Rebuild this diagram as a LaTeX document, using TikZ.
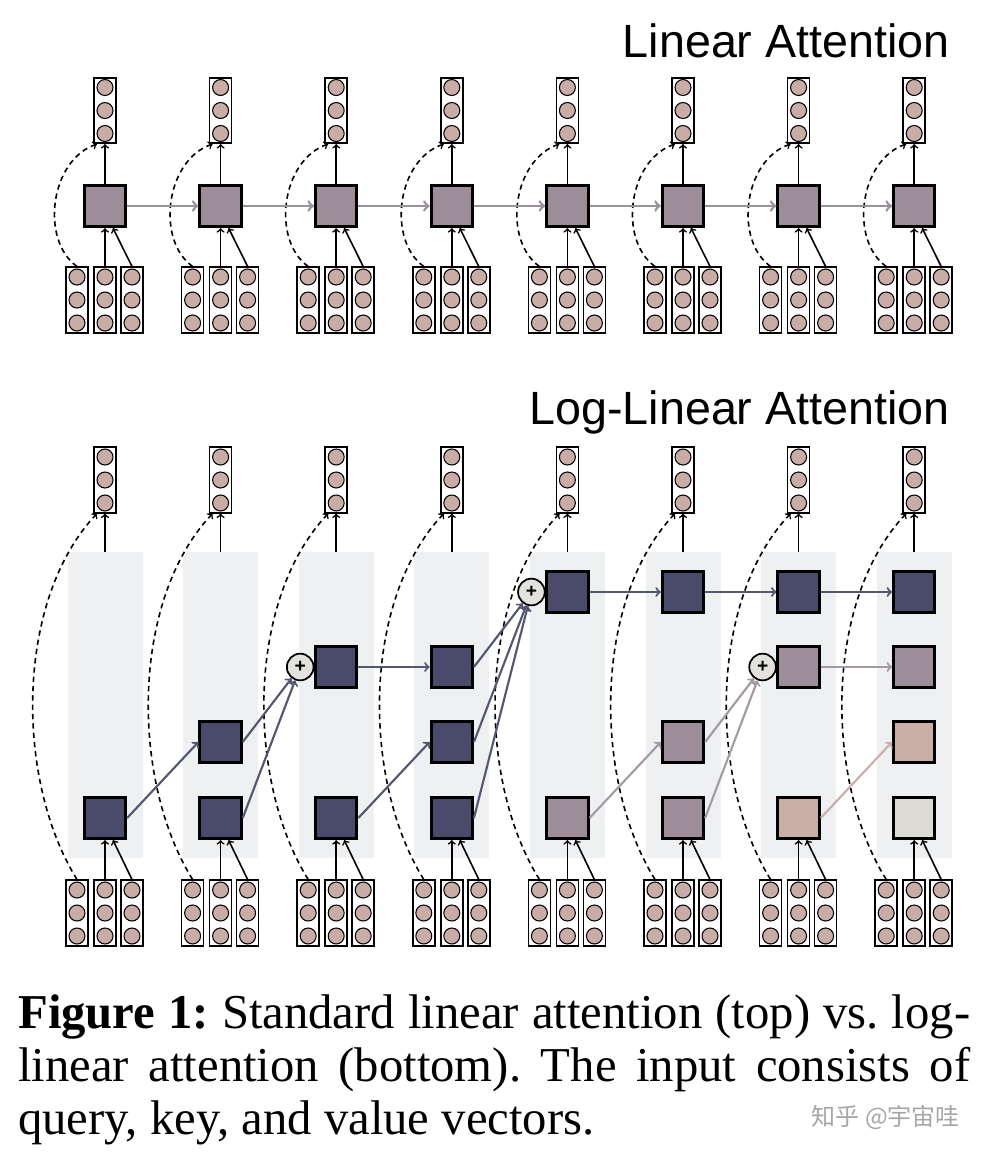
\documentclass[tikz,border=0pt]{standalone}
\usepackage{fontspec}
\setmainfont{Liberation Serif}
\setsansfont{Liberation Sans}
\newfontfamily\cjk{Noto Sans CJK SC}
\usetikzlibrary{calc}
\definecolor{dk}{HTML}{4A4B6B}
\definecolor{mv}{HTML}{9C8D98}
\definecolor{pk}{HTML}{C9ADA7}
\definecolor{lt}{HTML}{DCDBD6}
\definecolor{dotc}{HTML}{C9ACA6}
\definecolor{colbg}{HTML}{EFF0F2}
\definecolor{dkar}{HTML}{55566F}
\definecolor{mvar}{HTML}{A49AA3}
\definecolor{pkar}{HTML}{C8AFAB}
\definecolor{topar}{HTML}{9B939B}
\tikzset{
 vec/.style={draw,line width=1.3pt,fill=white,minimum width=16.5pt,minimum height=49pt,inner sep=0},
 dot/.style={circle,draw,line width=0.8pt,fill=dotc,minimum size=12pt,inner sep=0},
 sq/.style={draw,line width=2.2pt,minimum size=31pt,inner sep=0},
 plus/.style={circle,draw,line width=1.3pt,fill=lt!80!white,minimum size=20pt,inner sep=0,font=\sffamily\bfseries\Large},
 ar/.style={->,line width=1.2pt},
 dsh/.style={->,dash pattern=on 4pt off 3pt,line width=1.2pt},
 hor/.style={->,line width=2pt},
 title/.style={font=\sffamily\fontsize{35}{40}\selectfont,anchor=base east,inner sep=0},
}
\newcommand\myvec[3]{\node[vec] (#1) at (#2,#3) {};
 \foreach \d in {-23,0,23} \node[dot] at (#2,#3+\d) {};}
\begin{document}
\begin{tikzpicture}[x=0.75pt,y=-0.75pt]
\useasboundingbox (0,0) rectangle (984,1158);
\node[title] (t1) at (950,57) {Linear Attention};
\node[title] (t2) at (950,424) {Log-Linear Attention};
% top
\foreach \i in {0,...,7}{
 \pgfmathsetmacro\cx{105+115.6*\i}
 \myvec{to\i}{\cx}{110.5}
 \node[sq,fill=mv] (ts\i) at (\cx,206) {};
 \myvec{ta\i}{\cx-28}{300}
 \myvec{tb\i}{\cx}{300}
 \myvec{tc\i}{\cx+27}{300}
 \draw[ar] (ts\i) -- (to\i);
 \draw[ar] (tb\i) -- (ts\i);
 \draw[ar] (tc\i.north) -- ([xshift=6pt]ts\i.south);
 \draw[dsh] (ta\i.north) .. controls (\cx-65,240) and (\cx-55,160) .. ([xshift=-6pt]to\i.south);
}
\foreach \i [evaluate=\i as \j using int(\i+1)] in {0,...,6}
 \draw[hor,topar] (ts\i) -- (ts\j);
% bottom columns
\foreach \i in {0,...,7}{
 \pgfmathsetmacro\cx{105+115.6*\i}
 \fill[colbg] (\cx-37.5,552) rectangle (\cx+37.5,858);
 \coordinate (ct\i) at (\cx,552);
 \myvec{bo\i}{\cx}{480}
 \myvec{ba\i}{\cx-28}{913}
 \myvec{bb\i}{\cx}{913}
 \myvec{bc\i}{\cx+27}{913}
 \draw[ar] (ct\i) -- (bo\i);
}
\newcommand\sqr[4]{\pgfmathsetmacro\cx{105+115.6*#2}\node[sq,fill=#4] (#1) at (\cx,#3) {};}
\newcommand\pls[3]{\pgfmathsetmacro\cx{105+115.6*#2-36}\node[plus] (#1) at (\cx,#3) {+};}
\sqr{a3}{0}{818}{dk}
\sqr{b2}{1}{742}{dk}\sqr{b3}{1}{818}{dk}
\sqr{c1}{2}{667}{dk}\sqr{c3}{2}{818}{dk}\pls{pc}{2}{667}
\sqr{d1}{3}{667}{dk}\sqr{d2}{3}{742}{dk}\sqr{d3}{3}{818}{dk}
\sqr{e0}{4}{592}{dk}\sqr{e3}{4}{818}{mv}\pls{pe}{4}{592}
\sqr{f0}{5}{592}{dk}\sqr{f2}{5}{742}{mv}\sqr{f3}{5}{818}{mv}
\sqr{g0}{6}{592}{dk}\sqr{g1}{6}{667}{mv}\sqr{g3}{6}{818}{pk}\pls{pg}{6}{667}
\sqr{h0}{7}{592}{dk}\sqr{h1}{7}{667}{mv}\sqr{h2}{7}{742}{pk}\sqr{h3}{7}{818}{lt}
\foreach \i/\s in {0/a3,1/b3,2/c3,3/d3,4/e3,5/f3,6/g3,7/h3}{
 \pgfmathsetmacro\cx{105+115.6*\i}
 \draw[ar] (bb\i) -- (\s);
 \draw[ar] (bc\i.north) -- ([xshift=6pt]\s.south);
 \draw[dsh] (ba\i.north) .. controls (\cx-90,780) and (\cx-90,600) .. ([xshift=-6pt]bo\i.south);
}
\begin{scope}[ar,line width=1.6pt,dkar]
\draw (a3.east) -- (b2.west);
\draw (b2.east) -- (pc); \draw (b3.east) -- (pc);
\draw (c1) -- (d1); \draw (c3.east) -- (d2.west);
\draw (d1.east) -- (pe); \draw (d2.east) -- (pe); \draw (d3.east) -- (pe);
\draw (e0) -- (f0); \draw (f0) -- (g0); \draw (g0) -- (h0);
\end{scope}
\begin{scope}[ar,line width=1.6pt,mvar]
\draw (e3.east) -- (f2.west);
\draw (f2.east) -- (pg); \draw (f3.east) -- (pg);
\draw (g1) -- (h1);
\end{scope}
\draw[ar,line width=1.6pt,pkar] (g3.east) -- (h2.west);
% caption
\node[anchor=north west,inner sep=0,text width=714pt,align=justify,font=\fontsize{36.5}{40}\selectfont] (cap) at (18,994)
 {\frenchspacing\textbf{Figure 1:} Standard linear attention (top) vs. log-\linebreak linear attention (bottom). The input consists of\linebreak query, key, and value vectors.};
\node[anchor=east,inner sep=0,text=gray!70,font=\cjk\fontsize{18}{20}\selectfont] (wm) at (960,1117) {知乎 @宇宙哇};
\end{tikzpicture}
\end{document}
